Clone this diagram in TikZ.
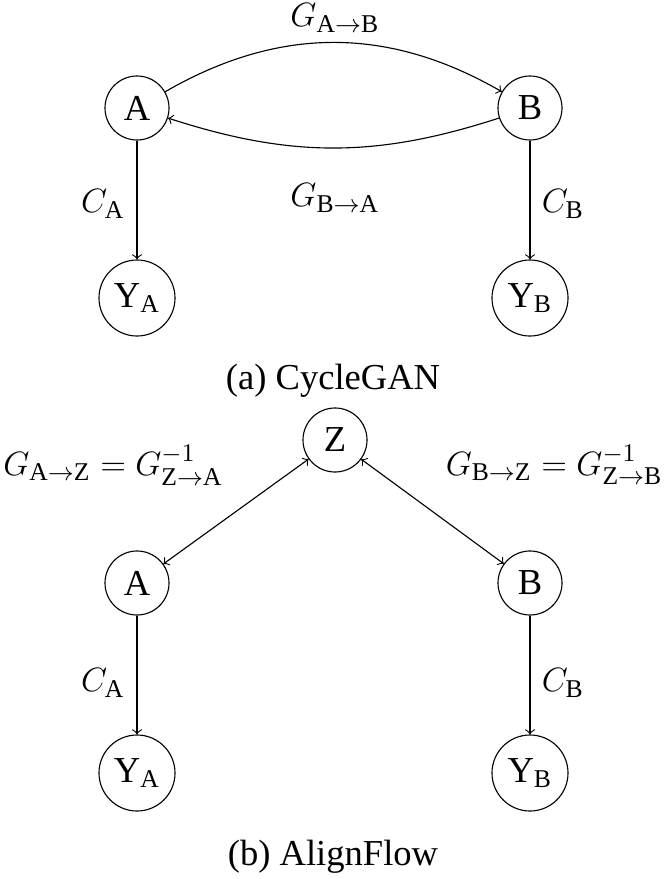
\documentclass[tikz,border=0pt]{standalone}
\usepackage{fontspec}
\setmainfont{Liberation Serif}
\begin{document}
\begin{tikzpicture}[x=0.0125cm,y=-0.0125cm,font=\fontsize{13}{15}\selectfont,
	st/.style={draw,circle,minimum size=0.8cm,inner sep=0pt},
	yst/.style={draw,circle,minimum size=0.95cm,inner sep=0pt}]
	\useasboundingbox (0,0) rectangle (666,879);
	% CycleGAN
	\node[st] (a) at (137,108) {A};
	\node[st] (b) at (530,108) {B};
	\node[yst] (ya) at (137,298) {Y$_{\mathrm{A}}$};
	\node[yst] (yb) at (530,298) {Y$_{\mathrm{B}}$};
	\draw[->] (a) to[bend left=30] (b);
	\draw[->] (b) to[bend left=18] (a);
	\draw[->] (a) -- (ya);
	\draw[->] (b) -- (yb);
	\node (gab) at (335,18) {$G_{\mathrm{A}\to\mathrm{B}}$};
	\node (gba) at (335,198) {$G_{\mathrm{B}\to\mathrm{A}}$};
	\node (ca) at (103,204) {$C_{\mathrm{A}}$};
	\node (cb) at (563,204) {$C_{\mathrm{B}}$};
	\node (capa) at (333,381) {(a) CycleGAN};
	% AlignFlow
	\node[st] (z) at (335,440) {Z};
	\node[st] (a2) at (137,583) {A};
	\node[st] (b2) at (530,583) {B};
	\node[yst] (ya2) at (137,773) {Y$_{\mathrm{A}}$};
	\node[yst] (yb2) at (530,773) {Y$_{\mathrm{B}}$};
	\draw[<->] (z) -- (a2);
	\draw[<->] (z) -- (b2);
	\draw[->] (a2) -- (ya2);
	\draw[->] (b2) -- (yb2);
	\node[anchor=west,inner sep=1pt] (gaz) at (0,465) {$G_{\mathrm{A}\to\mathrm{Z}}=G^{-1}_{\mathrm{Z}\to\mathrm{A}}$};
	\node[anchor=east,inner sep=1pt] (gbz) at (666,465) {$G_{\mathrm{B}\to\mathrm{Z}}=G^{-1}_{\mathrm{Z}\to\mathrm{B}}$};
	\node (ca2) at (103,683) {$C_{\mathrm{A}}$};
	\node (cb2) at (563,683) {$C_{\mathrm{B}}$};
	\node (capb) at (333,857) {(b) AlignFlow};
\end{tikzpicture}
\end{document}
